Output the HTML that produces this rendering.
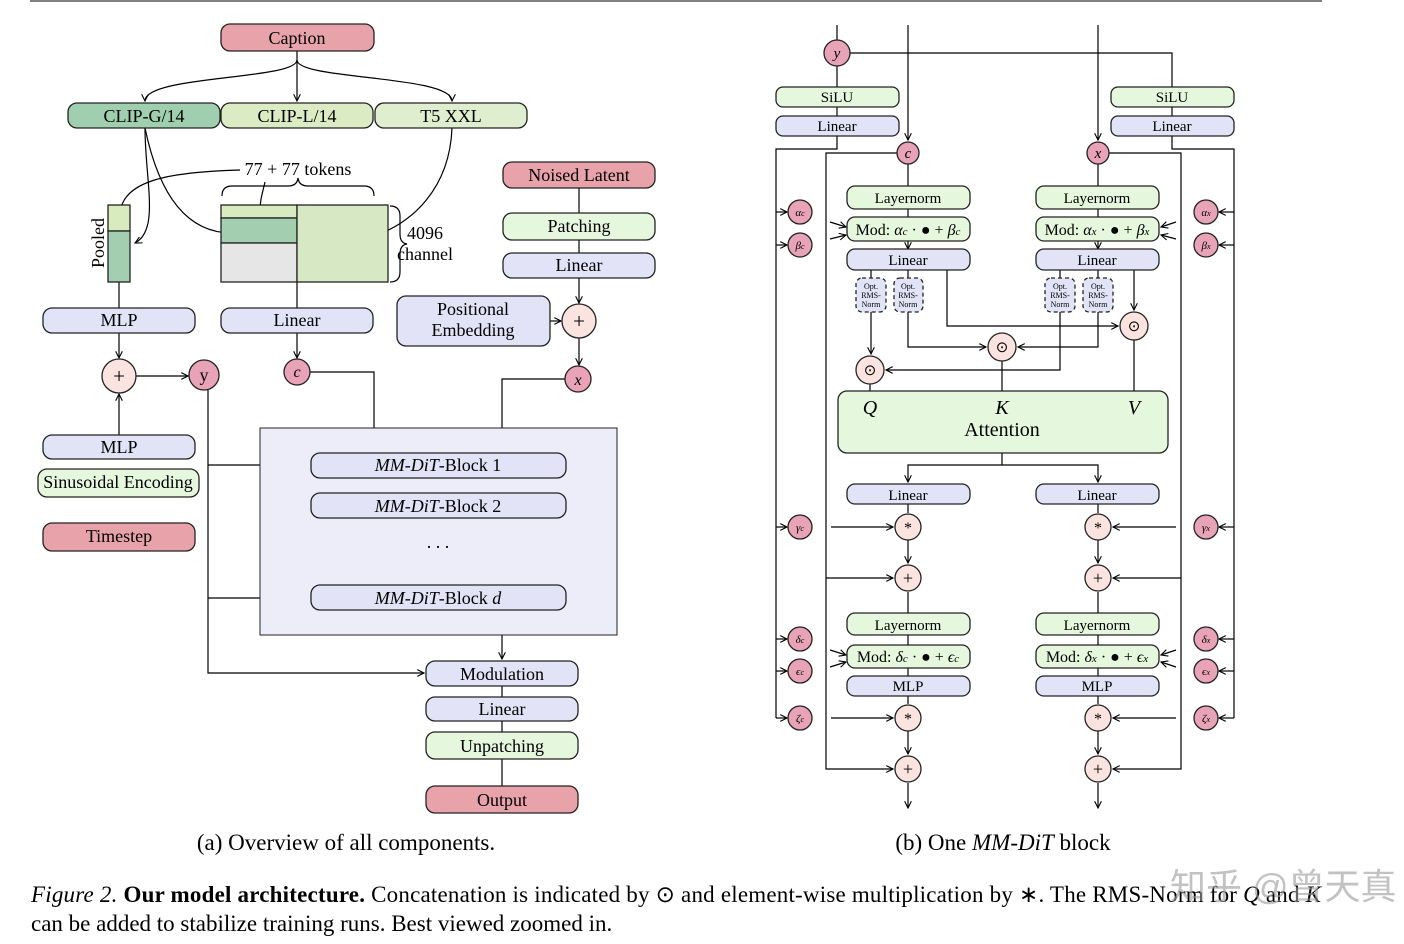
<!DOCTYPE html>
<html><head><meta charset="utf-8"><style>
html,body{margin:0;padding:0;background:#fff;}
svg{display:block;font-family:"Liberation Serif",serif;}
</style></head><body>
<svg width="1404" height="944" viewBox="0 0 1404 944" xmlns="http://www.w3.org/2000/svg">
<defs>
<marker id="a" viewBox="0 0 10 10" refX="9" refY="5" markerWidth="7" markerHeight="7" orient="auto-start-reverse"><path d="M1,1 L9,5 L1,9" fill="none" stroke="#000" stroke-width="1.3"/></marker>
</defs>
<line x1="30" y1="1" x2="1322" y2="1" stroke="#000" stroke-width="1"/>
<g stroke="#222" stroke-width="1.3" font-size="18" text-anchor="middle">
<!-- LEFT PANEL -->
<g fill="none" stroke="#000" stroke-width="1.2">
<path d="M297,51 V60 C297,80 145,75 145,101" marker-end="url(#a)"/>
<path d="M297,60 V101" marker-end="url(#a)"/>
<path d="M297,60 C297,80 452,75 452,101" marker-end="url(#a)"/>
<path d="M145,128 C145,180 160,230 135,243" marker-end="url(#a)"/>
<path d="M145,128 C160,200 190,233 232,233" marker-end="url(#a)"/>
<path d="M240,170 C170,172 120,180 120,216" marker-end="url(#a)"/>
<path d="M265,182 C262,195 260,200 260,212" marker-end="url(#a)"/>
<path d="M452,128 C450,180 420,230 348,243" marker-end="url(#a)"/>
<path d="M222,196 Q222,186 232,186 L288,186 Q297,186 298,178 Q299,186 308,186 L364,186 Q374,186 374,196"/>
<path d="M390,206 Q400,206 400,216 L400,234 Q400,243 407,244 Q400,245 400,254 L400,272 Q400,282 390,282"/>
<path d="M119,282 V308"/><path d="M297,282 V308"/>
<path d="M119,333 V358" marker-end="url(#a)"/>
<path d="M136,376 H188" marker-end="url(#a)"/>
<path d="M119,435 V394" marker-end="url(#a)"/>
<path d="M297,333 V358" marker-end="url(#a)"/>
<path d="M579,188 V213"/><path d="M579,240 V253"/>
<path d="M579,278 V303" marker-end="url(#a)"/>
<path d="M550,321 H561" marker-end="url(#a)"/>
<path d="M579,338 V365" marker-end="url(#a)"/>
<path d="M310,372 H374 V451" marker-end="url(#a)"/>
<path d="M374,478 V491" marker-end="url(#a)"/>
<path d="M374,518 V583" marker-end="url(#a)"/>
<path d="M565,379 H502 V453"/>
<path d="M502,478 V493"/><path d="M502,518 V585"/>
<path d="M502,610 V659" marker-end="url(#a)"/>
<path d="M208,390 V673 H424" marker-end="url(#a)"/>
<path d="M208,465 H309" marker-end="url(#a)"/>
<path d="M208,598 H309" marker-end="url(#a)"/>
<path d="M502,686 V697"/><path d="M502,721 V732"/><path d="M502,759 V786"/>
</g>
<rect x="221" y="24" width="153" height="27" rx="9" fill="#e8a3aa"/>
<rect x="68" y="103" width="152" height="25" rx="9" fill="#9fcfae"/>
<rect x="221" y="103" width="152" height="25" rx="9" fill="#dbebc4"/>
<rect x="375" y="103" width="152" height="25" rx="9" fill="#dfeecf"/>
<rect x="108" y="205" width="22" height="26" fill="#d8ebbf"/>
<rect x="108" y="231" width="22" height="51" fill="#a3cfb0"/>
<rect x="221" y="205" width="76" height="13" fill="#d8ebbf"/>
<rect x="221" y="218" width="76" height="25" fill="#a3cfb0"/>
<rect x="221" y="243" width="76" height="39" fill="#e6e6e6"/>
<rect x="297" y="205" width="91" height="77" fill="#d6e8c4"/>
<rect x="503" y="162" width="152" height="26" rx="9" fill="#e8a3aa"/>
<rect x="503" y="213" width="152" height="27" rx="9" fill="#e5f8de"/>
<rect x="503" y="253" width="152" height="25" rx="9" fill="#e3e3f8"/>
<rect x="397" y="296" width="153" height="50" rx="9" fill="#e3e3f8"/>
<rect x="43" y="308" width="152" height="25" rx="9" fill="#e3e3f8"/>
<rect x="221" y="308" width="152" height="25" rx="9" fill="#e3e3f8"/>
<rect x="43" y="435" width="152" height="24" rx="9" fill="#e3e3f8"/>
<rect x="38" y="469" width="161" height="28" rx="9" fill="#e5f8de"/>
<rect x="43" y="523" width="152" height="28" rx="9" fill="#e8a3aa"/>
<rect x="260" y="428" width="357" height="207" fill="#ededfa" stroke-width="1"/>
<rect x="311" y="453" width="255" height="25" rx="9" fill="#e3e3f8"/>
<rect x="311" y="493" width="255" height="25" rx="9" fill="#e3e3f8"/>
<rect x="311" y="585" width="255" height="25" rx="9" fill="#e3e3f8"/>
<rect x="426" y="661" width="152" height="25" rx="9" fill="#e3e3f8"/>
<rect x="426" y="697" width="152" height="24" rx="9" fill="#e3e3f8"/>
<rect x="426" y="732" width="152" height="27" rx="9" fill="#e5f8de"/>
<rect x="426" y="786" width="152" height="27" rx="9" fill="#e8a3aa"/>
<circle cx="579" cy="321" r="17" fill="#fbe3e0"/>
<circle cx="578" cy="379" r="13" fill="#e8a3b8"/>
<circle cx="119" cy="376" r="17" fill="#fbe3e0"/>
<circle cx="204" cy="375" r="15" fill="#e8a3b8"/>
<circle cx="297" cy="372" r="13" fill="#e8a3b8"/>
<g stroke="none" fill="#000">
<text x="297" y="44">Caption</text>
<text x="144" y="122">CLIP-G/14</text>
<text x="297" y="122">CLIP-L/14</text>
<text x="451" y="122">T5 XXL</text>
<text x="298" y="175">77 + 77 tokens</text>
<text x="104" y="243" transform="rotate(-90 104 243)">Pooled</text>
<text x="425" y="239">4096</text>
<text x="425" y="260">channel</text>
<text x="579" y="181">Noised Latent</text>
<text x="579" y="232">Patching</text>
<text x="579" y="271">Linear</text>
<text x="473" y="315">Positional</text>
<text x="473" y="336">Embedding</text>
<text x="579" y="328" font-size="21">+</text>
<text x="578" y="385" font-style="italic" font-size="16">x</text>
<text x="119" y="326">MLP</text>
<text x="297" y="326">Linear</text>
<text x="119" y="383" font-size="21">+</text>
<text x="204" y="381">y</text>
<text x="297" y="377" font-style="italic" font-size="16">c</text>
<text x="119" y="453">MLP</text>
<text x="118" y="488">Sinusoidal Encoding</text>
<text x="119" y="542">Timestep</text>
<text x="438" y="471"><tspan font-style="italic">MM-DiT</tspan>-Block 1</text>
<text x="438" y="512"><tspan font-style="italic">MM-DiT</tspan>-Block 2</text>
<text x="438" y="548">. . .</text>
<text x="438" y="604"><tspan font-style="italic">MM-DiT</tspan>-Block <tspan font-style="italic">d</tspan></text>
<text x="502" y="680">Modulation</text>
<text x="502" y="715">Linear</text>
<text x="502" y="752">Unpatching</text>
<text x="502" y="806">Output</text>
<text x="346" y="850" font-size="23">(a) Overview of all components.</text>
<text x="1003" y="850" font-size="23">(b) One <tspan font-style="italic">MM-DiT</tspan> block</text>
</g>

<!-- RIGHT PANEL -->
<g fill="none" stroke="#000" stroke-width="1.2">
<path d="M837,25 V40"/><path d="M837,66 V87"/><path d="M837,107 V116"/>
<path d="M850,53 H1172 V87"/><path d="M1172,107 V116"/>
<path d="M908,25 V140" marker-end="url(#a)"/>
<path d="M1098,25 V140" marker-end="url(#a)"/>
<path d="M837,136 V149 H776 V718"/>
<path d="M1172,136 V149 H1234 V718"/>
<path d="M897,153 H826 V769 H893" marker-end="url(#a)"/>
<path d="M1109,153 H1181 V769 H1113" marker-end="url(#a)"/>
<path d="M826,578 H893" marker-end="url(#a)"/>
<path d="M1181,578 H1113" marker-end="url(#a)"/>
<path d="M908,164 V186"/><path d="M1098,164 V186"/>
<path d="M908,209 V217"/><path d="M1098,209 V217"/>
<path d="M908,241 V249" marker-end="url(#a)"/><path d="M1098,241 V249" marker-end="url(#a)"/>
<path d="M871,270 V278"/><path d="M871,312 V354" marker-end="url(#a)"/>
<path d="M908,270 V278"/><path d="M908,312 V347 H986" marker-end="url(#a)"/>
<path d="M947,270 V326 H1118" marker-end="url(#a)"/>
<path d="M1060,270 V278"/><path d="M1060,312 V370 H886" marker-end="url(#a)"/>
<path d="M1098,270 V278"/><path d="M1098,312 V347 H1018" marker-end="url(#a)"/>
<path d="M1134,270 V310" marker-end="url(#a)"/>
<path d="M870,384 V391"/><path d="M1002,361 V391"/><path d="M1134,340 V391"/>
<path d="M1002,453 V465 H908 V482" marker-end="url(#a)"/>
<path d="M1002,465 H1098 V482" marker-end="url(#a)"/>
<path d="M908,504 V513"/><path d="M1098,504 V513"/>
<path d="M908,540 V563" marker-end="url(#a)"/><path d="M1098,540 V563" marker-end="url(#a)"/>
<path d="M908,592 V613"/><path d="M1098,592 V613"/>
<path d="M908,635 V645"/><path d="M1098,635 V645"/>
<path d="M908,668 V676"/><path d="M1098,668 V676"/>
<path d="M908,696 V704"/><path d="M1098,696 V704"/>
<path d="M908,731 V754" marker-end="url(#a)"/><path d="M1098,731 V754" marker-end="url(#a)"/>
<path d="M908,783 V808" marker-end="url(#a)"/><path d="M1098,783 V808" marker-end="url(#a)"/>
<path d="M831,527 H893" marker-end="url(#a)"/><path d="M1176,527 H1113" marker-end="url(#a)"/>
<path d="M831,718 H893" marker-end="url(#a)"/><path d="M1176,718 H1113" marker-end="url(#a)"/>
<path d="M776,212 H787" marker-end="url(#a)"/><path d="M776,245 H787" marker-end="url(#a)"/>
<path d="M776,527 H787" marker-end="url(#a)"/><path d="M776,639 H787" marker-end="url(#a)"/>
<path d="M776,671 H787" marker-end="url(#a)"/><path d="M776,718 H787" marker-end="url(#a)"/>
<path d="M1234,212 H1219" marker-end="url(#a)"/><path d="M1234,245 H1219" marker-end="url(#a)"/>
<path d="M1234,527 H1219" marker-end="url(#a)"/><path d="M1234,639 H1219" marker-end="url(#a)"/>
<path d="M1234,671 H1219" marker-end="url(#a)"/><path d="M1234,718 H1219" marker-end="url(#a)"/>
<path d="M830,222 L846,227" marker-end="url(#a)"/><path d="M830,239 L846,235" marker-end="url(#a)"/>
<path d="M1176,222 L1161,227" marker-end="url(#a)"/><path d="M1176,239 L1161,235" marker-end="url(#a)"/>
<path d="M830,650 L846,655" marker-end="url(#a)"/><path d="M830,667 L846,662" marker-end="url(#a)"/>
<path d="M1176,650 L1161,655" marker-end="url(#a)"/><path d="M1176,667 L1161,662" marker-end="url(#a)"/>
</g>
<rect x="776" y="87" width="123" height="20" rx="7" fill="#e5f8de"/>
<rect x="776" y="116" width="123" height="20" rx="7" fill="#e3e3f8"/>
<rect x="1111" y="87" width="123" height="20" rx="7" fill="#e5f8de"/>
<rect x="1111" y="116" width="123" height="20" rx="7" fill="#e3e3f8"/>
<circle cx="837" cy="53" r="13" fill="#e8a3b8"/>
<circle cx="908" cy="153" r="11" fill="#e8a3b8"/>
<circle cx="1098" cy="153" r="11" fill="#e8a3b8"/>
<g id="colL">
<rect x="847" y="186" width="123" height="23" rx="8" fill="#e5f8de"/>
<rect x="847" y="217" width="123" height="24" rx="8" fill="#e5f8de"/>
<rect x="847" y="249" width="123" height="21" rx="8" fill="#e3e3f8"/>
<rect x="847" y="484" width="123" height="20" rx="8" fill="#e3e3f8"/>
<rect x="847" y="613" width="123" height="22" rx="8" fill="#e5f8de"/>
<rect x="847" y="645" width="123" height="23" rx="8" fill="#e5f8de"/>
<rect x="847" y="676" width="123" height="20" rx="8" fill="#e3e3f8"/>
</g>
<use href="#colL" x="189"/>
<g fill="#e3e3f8" stroke-dasharray="4,3">
<rect x="856" y="278" width="30" height="34" rx="6"/><rect x="894" y="278" width="29" height="34" rx="6"/>
<rect x="1045" y="278" width="30" height="34" rx="6"/><rect x="1083" y="278" width="30" height="34" rx="6"/>
</g>
<g fill="#fbe3e0">
<circle cx="870" cy="370" r="14"/><circle cx="1002" cy="347" r="14"/><circle cx="1134" cy="326" r="14"/>
<circle cx="908" cy="527" r="13"/><circle cx="1098" cy="527" r="13"/>
<circle cx="908" cy="578" r="13"/><circle cx="1098" cy="578" r="13"/>
<circle cx="908" cy="718" r="13"/><circle cx="1098" cy="718" r="13"/>
<circle cx="908" cy="769" r="13"/><circle cx="1098" cy="769" r="13"/>
</g>
<rect x="838" y="391" width="330" height="62" rx="9" fill="#e5f8de"/>
<g fill="#e8a3b8">
<circle cx="800" cy="212" r="12"/><circle cx="800" cy="245" r="12"/><circle cx="800" cy="527" r="12"/>
<circle cx="800" cy="639" r="12"/><circle cx="800" cy="671" r="12"/><circle cx="800" cy="718" r="12"/>
<circle cx="1206" cy="212" r="12"/><circle cx="1206" cy="245" r="12"/><circle cx="1206" cy="527" r="12"/>
<circle cx="1206" cy="639" r="12"/><circle cx="1206" cy="671" r="12"/><circle cx="1206" cy="718" r="12"/>
</g>
<g stroke="none" fill="#000" font-size="15">
<text x="837" y="58" font-style="italic">y</text>
<text x="837" y="102">SiLU</text><text x="837" y="131">Linear</text>
<text x="1172" y="102">SiLU</text><text x="1172" y="131">Linear</text>
<text x="908" y="158" font-style="italic">c</text><text x="1098" y="158" font-style="italic">x</text>
<text x="908" y="203">Layernorm</text><text x="1097" y="203">Layernorm</text>
<text x="908" y="235" font-size="16">Mod: <tspan font-style="italic">α<tspan font-size="11">c</tspan></tspan> · ● + <tspan font-style="italic">β<tspan font-size="11">c</tspan></tspan></text>
<text x="1097" y="235" font-size="16">Mod: <tspan font-style="italic">α<tspan font-size="11">x</tspan></tspan> · ● + <tspan font-style="italic">β<tspan font-size="11">x</tspan></tspan></text>
<text x="908" y="265">Linear</text><text x="1097" y="265">Linear</text>
<g font-size="8"><text x="871" y="289">Opt.</text><text x="871" y="298">RMS-</text><text x="871" y="307">Norm</text>
<text x="908" y="289">Opt.</text><text x="908" y="298">RMS-</text><text x="908" y="307">Norm</text>
<text x="1060" y="289">Opt.</text><text x="1060" y="298">RMS-</text><text x="1060" y="307">Norm</text>
<text x="1098" y="289">Opt.</text><text x="1098" y="298">RMS-</text><text x="1098" y="307">Norm</text></g>
<text x="870" y="375" font-size="15">⊙</text><text x="1002" y="352" font-size="15">⊙</text><text x="1134" y="331" font-size="15">⊙</text>
<g font-size="20" font-style="italic"><text x="870" y="414">Q</text><text x="1002" y="414">K</text><text x="1134" y="414">V</text></g>
<text x="1002" y="436" font-size="20">Attention</text>
<text x="908" y="500">Linear</text><text x="1097" y="500">Linear</text>
<text x="908" y="533" font-size="16">*</text><text x="1098" y="533" font-size="16">*</text>
<text x="908" y="584" font-size="18">+</text><text x="1098" y="584" font-size="18">+</text>
<text x="908" y="630">Layernorm</text><text x="1097" y="630">Layernorm</text>
<text x="908" y="662" font-size="16">Mod: <tspan font-style="italic">δ<tspan font-size="11">c</tspan></tspan> · ● + <tspan font-style="italic">ϵ<tspan font-size="11">c</tspan></tspan></text>
<text x="1097" y="662" font-size="16">Mod: <tspan font-style="italic">δ<tspan font-size="11">x</tspan></tspan> · ● + <tspan font-style="italic">ϵ<tspan font-size="11">x</tspan></tspan></text>
<text x="908" y="691">MLP</text><text x="1097" y="691">MLP</text>
<text x="908" y="724" font-size="16">*</text><text x="1098" y="724" font-size="16">*</text>
<text x="908" y="775" font-size="18">+</text><text x="1098" y="775" font-size="18">+</text>
<g font-size="11" font-style="italic">
<text x="800" y="216">α<tspan font-size="8">c</tspan></text><text x="800" y="249">β<tspan font-size="8">c</tspan></text>
<text x="800" y="531">γ<tspan font-size="8">c</tspan></text><text x="800" y="643">δ<tspan font-size="8">c</tspan></text>
<text x="800" y="675">ϵ<tspan font-size="8">c</tspan></text><text x="800" y="722">ζ<tspan font-size="8">c</tspan></text>
<text x="1206" y="216">α<tspan font-size="8">x</tspan></text><text x="1206" y="249">β<tspan font-size="8">x</tspan></text>
<text x="1206" y="531">γ<tspan font-size="8">x</tspan></text><text x="1206" y="643">δ<tspan font-size="8">x</tspan></text>
<text x="1206" y="675">ϵ<tspan font-size="8">x</tspan></text><text x="1206" y="722">ζ<tspan font-size="8">x</tspan></text>
</g>
</g>
</g>
<g font-size="23" fill="#000">
<text x="31" y="902" textLength="1290" lengthAdjust="spacing"><tspan font-style="italic">Figure 2.</tspan> <tspan font-weight="bold">Our model architecture.</tspan> Concatenation is indicated by ⊙ and element-wise multiplication by ∗. The RMS-Norm for <tspan font-style="italic">Q</tspan> and <tspan font-style="italic">K</tspan></text>
<text x="31" y="931">can be added to stabilize training runs. Best viewed zoomed in.</text>
</g>
<text x="1170" y="899" font-size="36" fill="#999" fill-opacity="0.6" font-family="'Liberation Sans','Noto Sans CJK SC',sans-serif">知乎 @曾天真</text>
</svg>
</body></html>
